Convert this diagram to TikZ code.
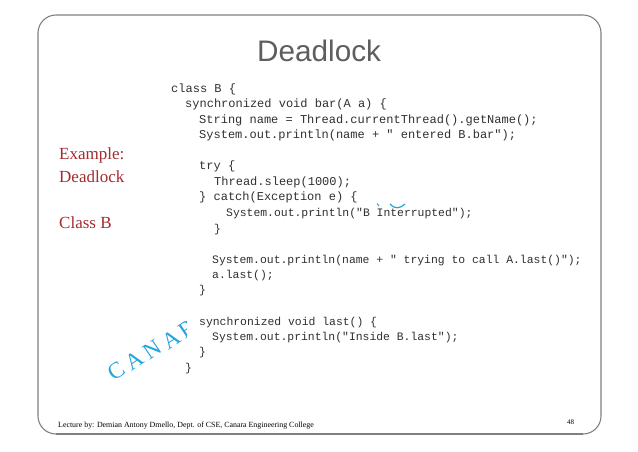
\documentclass[tikz,border=0pt]{standalone}
\usepackage{fontspec}
\setmainfont{Liberation Serif}
\setsansfont{Liberation Sans}
\setmonofont{Liberation Mono}
\definecolor{framegray}{HTML}{808080}
\definecolor{titlegray}{HTML}{5E5E5E}
\definecolor{notered}{HTML}{A32A2E}
\definecolor{markblue}{HTML}{22A5DC}
\definecolor{codegray}{HTML}{303030}
\tikzset{
  slideframe/.style={draw=framegray,line width=1.1pt,rounded corners=18pt,inner sep=0pt},
  slidetitle/.style={inner sep=0pt,anchor=base west,text=titlegray,font=\sffamily\fontsize{29.7}{32}\selectfont},
  note/.style={inner sep=0pt,anchor=base west,text=notered,font=\fontsize{17}{20}\selectfont},
  codeline/.style={inner sep=0pt,anchor=base west,text=codegray,font=\ttfamily\fontsize{12}{14}\selectfont},
  codesmall/.style={codeline,font=\ttfamily\fontsize{11.4}{14}\selectfont},
  markletter/.style={inner sep=0pt,text=markblue,rotate=34,font=\fontsize{23}{26}\selectfont},
  footline/.style={inner sep=0pt,anchor=base west,text=black,font=\fontsize{7.9}{10}\selectfont}
}
\begin{document}
\begin{tikzpicture}[x=1pt,y=-1pt]
  \useasboundingbox (0,0) rectangle (638,451);
  \node[slideframe,minimum width=563pt,minimum height=419pt] (frame) at (319.5,224.5) {};
  \draw[framegray,line width=1.6pt] (56,434) -- (583,434);

  % watermark, the code picture sits on top of it
  \foreach \ch/\px/\py [count=\i] in {C/116/371,A/134/361,N/152/350,A/171/340,R/187/329}
    \node[markletter] (mark\i) at (\px,\py) {\ch};
  \fill[white] (187,70) rectangle (590,385);
  \draw[markblue,line width=1pt] (377,203.5) -- (379,206);
  \draw[markblue,line width=1.2pt] (390,204) .. controls (394,209) and (400,209) .. (405,204);

  \node[slidetitle] (title) at (257,61) {Deadlock};

  \node[note] (example) at (59,159) {Example:};
  \node[note] (deadlock) at (59,182) {Deadlock};
  \node[note] (classb) at (59,228) {Class B};

  \node[codeline] (c1) at (171,92) {class B \{};
  \node[codeline] (c2) at (185,107.5) {synchronized void bar(A a) \{};
  \node[codeline] (c3) at (199,123) {String name = Thread.currentThread().getName();};
  \node[codeline] (c4) at (199,138.5) {System.out.println(name + " entered B.bar");};
  \node[codeline] (c5) at (199,169.5) {try \{};
  \node[codeline] (c6) at (214,185) {Thread.sleep(1000);};
  \node[codeline] (c7) at (199,200.5) {\} catch(Exception e) \{};
  \node[codesmall] (c8) at (226,216.5) {System.out.println("B Interrupted");};
  \node[codesmall] (c9) at (214,232.5) {\}};
  \node[codesmall] (c10) at (212,263) {System.out.println(name + " trying to call A.last()");};
  \node[codesmall] (c11) at (212,278.5) {a.last();};
  \node[codesmall] (c12) at (199,293.5) {\}};
  \node[codesmall] (c13) at (199,325) {synchronized void last() \{};
  \node[codesmall] (c14) at (212,340.5) {System.out.println("Inside B.last");};
  \node[codesmall] (c15) at (199,355.5) {\}};
  \node[codesmall] (c16) at (185,371) {\}};

  \node[footline] (lecture) at (58,427) {Lecture by: Demian Antony Dmello, Dept. of CSE, Canara Engineering College};
  \node[footline,font=\fontsize{7}{8}\selectfont] (pageno) at (567,424) {48};
\end{tikzpicture}
\end{document}
